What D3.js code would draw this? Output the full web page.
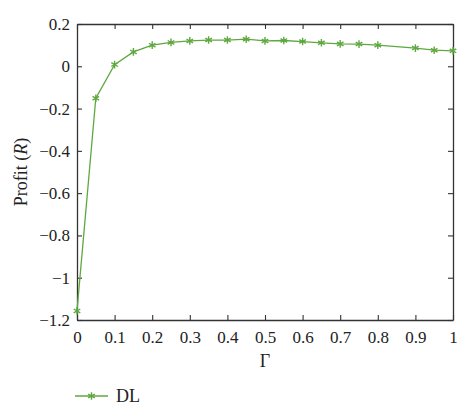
<!DOCTYPE html>
<html>
<head>
<meta charset="utf-8">
<script src="https://cdn.jsdelivr.net/npm/d3@7"></script>
<style>
  body { margin: 0; background: #fff; }
  svg text { font-family: "Liberation Serif", serif !important; fill: #222; }
</style>
</head>
<body>
<div id="chart"></div>
<script>
var gammas = [0, 0.05, 0.1, 0.15, 0.2, 0.25, 0.3, 0.35, 0.4, 0.45, 0.5, 0.55, 0.6, 0.65, 0.7, 0.75, 0.8, 0.9, 0.95, 1.0];
var profitDL = [-1.157, -0.151, 0.008, 0.068, 0.100, 0.113, 0.120, 0.124, 0.124, 0.128, 0.120, 0.122, 0.117, 0.111, 0.106, 0.105, 0.100, 0.086, 0.076, 0.073];
var xTicks = [0, 0.1, 0.2, 0.3, 0.4, 0.5, 0.6, 0.7, 0.8, 0.9, 1];
var yTicks = [0.2, 0, -0.2, -0.4, -0.6, -0.8, -1, -1.2];
var seriesName = "DL";

var margin = { top: 24, right: 21, bottom: 97, left: 77 },
    width = 474 - margin.left - margin.right,
    height = 417 - margin.top - margin.bottom,
    green = "#5fa83f";

var svg = d3.select("#chart").append("svg")
    .attr("width", 474)
    .attr("height", 417)
    .append("g")
    .attr("transform", "translate(" + margin.left + "," + margin.top + ")");

var x = d3.scaleLinear().domain([0, 1]).range([0, width]);
var y = d3.scaleLinear().domain([-1.2, 0.2]).range([height, 0]);

var fmt = function (d) { return String(d).replace("-", "\u2212"); };

// axes, ticks pointing inward on all four sides
var axes = [
    svg.append("g")
        .attr("transform", "translate(0," + height + ")")
        .call(d3.axisBottom(x).tickValues(xTicks).tickSizeInner(-5).tickSizeOuter(0).tickPadding(11).tickFormat(fmt)),
    svg.append("g")
        .call(d3.axisTop(x).tickValues(xTicks).tickSizeInner(-5).tickSizeOuter(0).tickFormat("")),
    svg.append("g")
        .call(d3.axisLeft(y).tickValues(yTicks).tickSizeInner(-5).tickSizeOuter(0).tickPadding(7).tickFormat(fmt)),
    svg.append("g")
        .attr("transform", "translate(" + width + ",0)")
        .call(d3.axisRight(y).tickValues(yTicks).tickSizeInner(-5).tickSizeOuter(0).tickFormat(""))
];
axes.forEach(function (a) { a.attr("font-family", null).attr("font-size", null); });

svg.selectAll(".domain").attr("stroke", "#333").attr("stroke-width", 1.3);
svg.selectAll(".tick line").attr("stroke", "#333").attr("stroke-width", 1.1);
svg.selectAll(".tick text")
    .style("font-size", "17px")
    .attr("fill", "#222");

// data line
var pts = gammas.map(function (g, i) { return [g, profitDL[i]]; });
var line = d3.line()
    .x(function (d) { return x(d[0]); })
    .y(function (d) { return y(d[1]); });

svg.append("path")
    .datum(pts)
    .attr("fill", "none")
    .attr("stroke", green)
    .attr("stroke-width", 1.3)
    .attr("d", line);

var star = d3.symbol().type(d3.symbolAsterisk).size(40);
svg.selectAll(".pt")
    .data(pts)
    .enter().append("path")
    .attr("class", "pt")
    .attr("transform", function (d) { return "translate(" + x(d[0]) + "," + y(d[1]) + ")"; })
    .attr("d", star)
    .attr("fill", "none")
    .attr("stroke", green)
    .attr("stroke-width", 1.4);

// axis titles
svg.append("text")
    .attr("x", width / 2)
    .attr("y", height + 47)
    .attr("text-anchor", "middle")
    .style("font-size", "18px")
    .text("\u0393");

var ylab = svg.append("text")
    .attr("transform", "translate(-50," + (height / 2) + ") rotate(-90)")
    .attr("text-anchor", "middle")
    .style("font-size", "18px");
ylab.append("tspan").text("Profit (");
ylab.append("tspan").style("font-style", "italic").text("R");
ylab.append("tspan").text(")");

// legend
var lg = svg.append("g").attr("transform", "translate(-2," + (height + 76) + ")");
lg.append("line").attr("x1", 0).attr("x2", 33).attr("y1", 0).attr("y2", 0)
    .attr("stroke", green).attr("stroke-width", 1.3);
lg.append("path").attr("transform", "translate(16.5,0)").attr("d", star)
    .attr("fill", "none").attr("stroke", green).attr("stroke-width", 1.4);
lg.append("text").attr("x", 41).attr("y", 6).style("font-size", "18px").text(seriesName);
</script>
</body>
</html>
